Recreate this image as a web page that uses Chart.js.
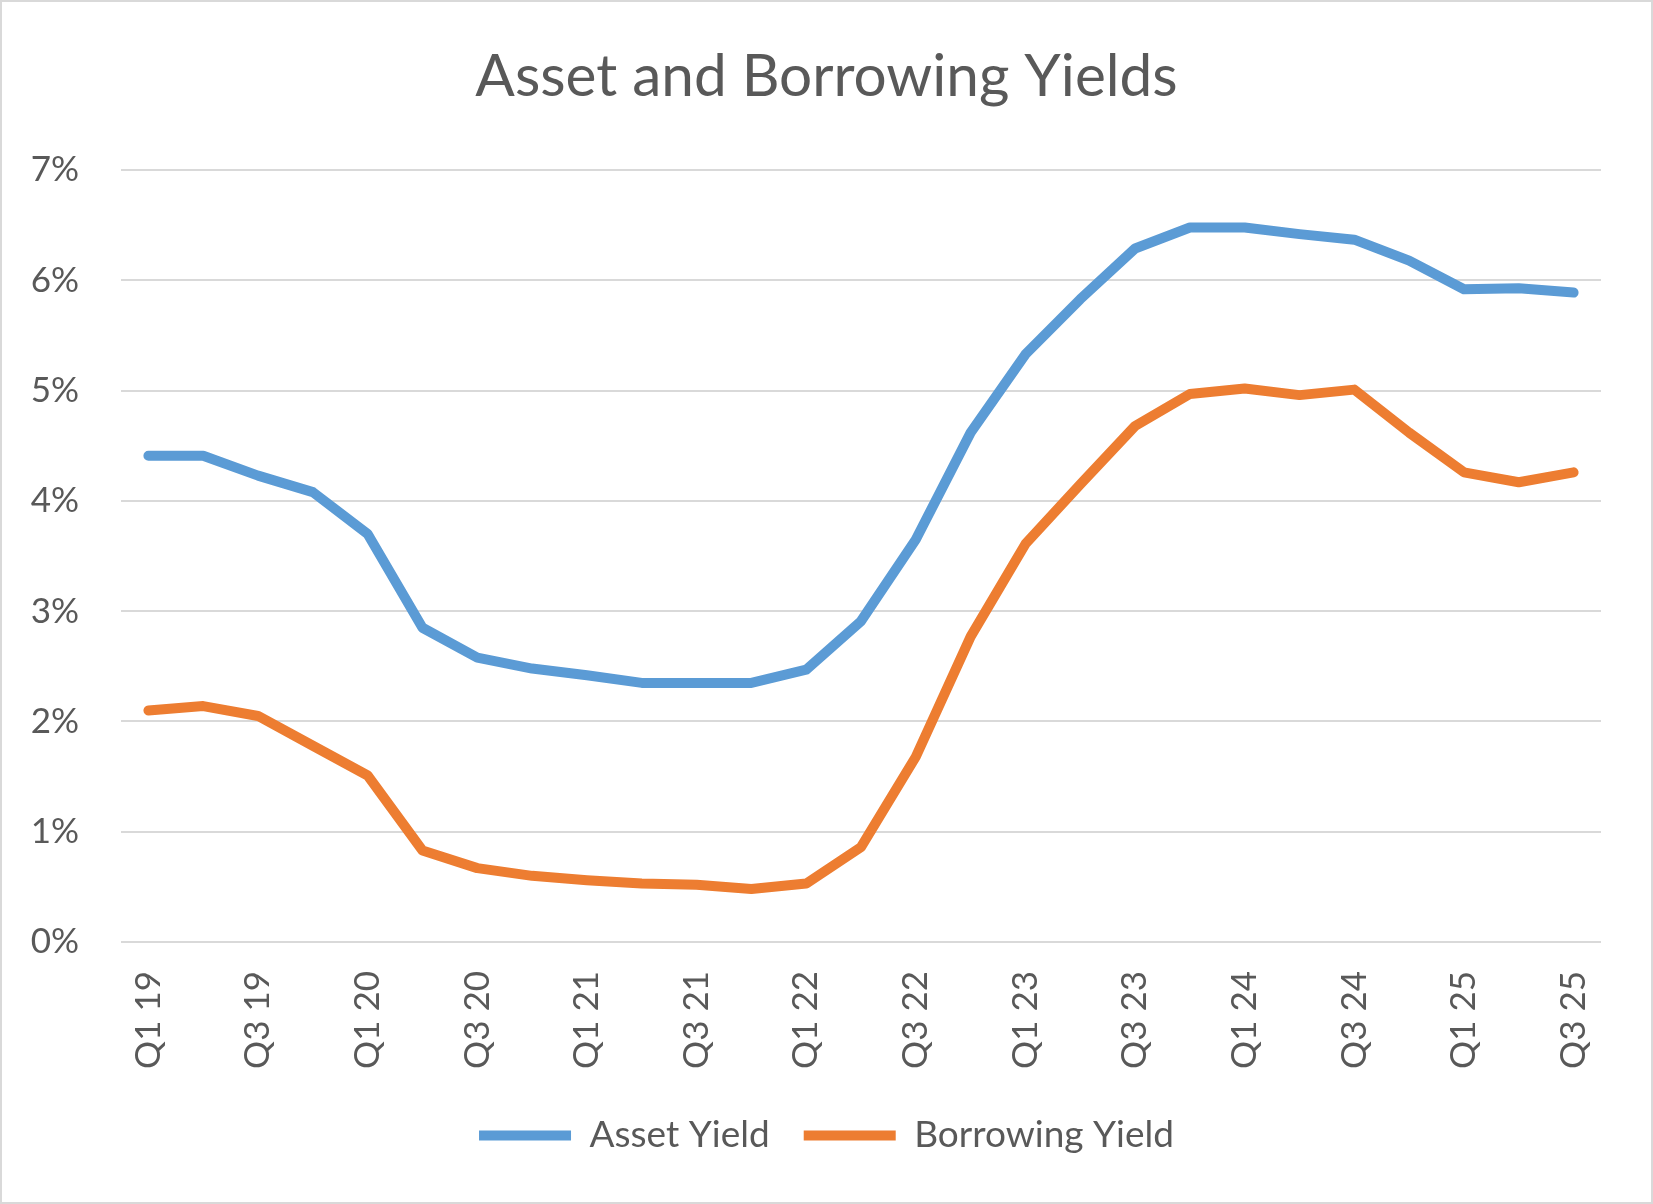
<!DOCTYPE html>
<html>
<head>
<meta charset="utf-8">
<script src="https://cdn.jsdelivr.net/npm/chart.js@4/dist/chart.umd.min.js"></script>
<style>
  html, body { margin: 0; padding: 0; background: #fff; }
  canvas { display: block; }
</style>
</head>
<body>
<canvas id="yieldChart" width="1653" height="1204"></canvas>
<script>
// quarters, Q1 19 .. Q3 25
const quarters = [
  'Q1 19', 'Q2 19', 'Q3 19', 'Q4 19',
  'Q1 20', 'Q2 20', 'Q3 20', 'Q4 20',
  'Q1 21', 'Q2 21', 'Q3 21', 'Q4 21',
  'Q1 22', 'Q2 22', 'Q3 22', 'Q4 22',
  'Q1 23', 'Q2 23', 'Q3 23', 'Q4 23',
  'Q1 24', 'Q2 24', 'Q3 24', 'Q4 24',
  'Q1 25', 'Q2 25', 'Q3 25'
];

// values in percent
const assetYield = [
  4.41, 4.41, 4.23, 4.08,
  3.70, 2.85, 2.58, 2.48,
  2.42, 2.35, 2.35, 2.35,
  2.47, 2.91, 3.65, 4.62,
  5.33, 5.83, 6.29, 6.48,
  6.48, 6.42, 6.37, 6.18,
  5.92, 5.93, 5.89
];

const borrowingYield = [
  2.10, 2.14, 2.05, 1.78,
  1.51, 0.83, 0.67, 0.60,
  0.56, 0.53, 0.52, 0.48,
  0.53, 0.86, 1.68, 2.77,
  3.61, 4.15, 4.68, 4.97,
  5.02, 4.96, 5.01, 4.62,
  4.26, 4.17, 4.26
];

const yTicks = [0, 1, 2, 3, 4, 5, 6, 7];

const textColor = '#595959';
const gridColor = '#d9d9d9';

// white background + thin frame like the exported chart
const frame = {
  id: 'frame',
  beforeDraw(chart) {
    const ctx = chart.ctx;
    ctx.save();
    ctx.fillStyle = '#ffffff';
    ctx.fillRect(0, 0, chart.width, chart.height);
    ctx.strokeStyle = gridColor;
    ctx.lineWidth = 2;
    ctx.strokeRect(1, 1, chart.width - 2, chart.height - 2);
    ctx.restore();
  }
};

const ctx = document.getElementById('yieldChart').getContext('2d');

const chart = new Chart(ctx, {
  type: 'line',
  data: {
    labels: quarters,
    datasets: [{
      label: 'Asset Yield',
      data: assetYield,
      borderColor: '#5b9bd5',
      backgroundColor: '#5b9bd5',
      borderWidth: 10,
      borderCapStyle: 'round',
      borderJoinStyle: 'round',
      pointRadius: 0,
      tension: 0,
      fill: false
    }, {
      label: 'Borrowing Yield',
      data: borrowingYield,
      borderColor: '#ed7d31',
      backgroundColor: '#ed7d31',
      borderWidth: 10,
      borderCapStyle: 'round',
      borderJoinStyle: 'round',
      pointRadius: 0,
      tension: 0,
      fill: false
    }]
  },
  options: {
    responsive: false,
    animation: false,
    layout: {
      padding: { top: 10, left: 20, right: 20, bottom: 40 }
    },
    plugins: {
      title: {
        display: true,
        text: 'Asset and Borrowing Yields',
        color: textColor,
        font: { family: 'Lato', size: 58.5, weight: 'normal', lineHeight: 1.2 },
        padding: { top: 32, bottom: 58 }
      },
      legend: {
        position: 'bottom',
        labels: {
          color: textColor,
          font: { family: 'Lato', size: 37 },
          usePointStyle: true,
          pointStyle: 'line',
          pointStyleWidth: 92,
          boxHeight: 10,
          padding: 34
        }
      },
      tooltip: { enabled: false }
    },
    scales: {
      x: {
        offset: true,
        grid: { display: false, drawTicks: false },
        border: { display: false },
        ticks: {
          autoSkip: false,
          minRotation: 90,
          maxRotation: 90,
          padding: 29,
          color: textColor,
          font: { family: 'Lato', size: 35 },
          callback: function (value, index) {
            return index % 2 === 0 ? quarters[index] : '';
          }
        },
        afterFit: function (scale) { scale.height = 141; }
      },
      y: {
        min: yTicks[0],
        max: yTicks[yTicks.length - 1],
        grid: { color: gridColor, lineWidth: 2, drawTicks: false },
        border: { display: false },
        afterBuildTicks: function (scale) {
          scale.ticks = yTicks.map(v => ({ value: v }));
        },
        ticks: {
          padding: 42,
          color: textColor,
          font: { family: 'Lato', size: 35 },
          callback: function (value) { return value + '%'; }
        },
        afterFit: function (scale) { scale.width = 101; }
      },
      // empty right-hand gutter so title and legend stay centred on the page
      gutter: {
        type: 'linear',
        position: 'right',
        grid: { display: false, drawTicks: false },
        border: { display: false },
        ticks: { display: false },
        afterFit: function (scale) { scale.width = 32; }
      }
    }
  },
  plugins: [frame]
});
</script>
</body>
</html>
